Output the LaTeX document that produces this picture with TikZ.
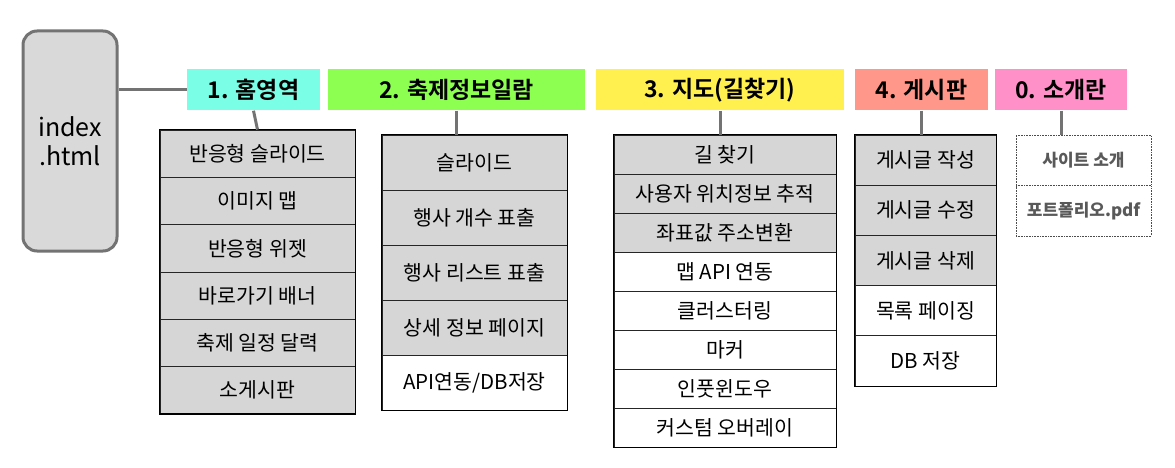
\documentclass[tikz,border=0pt]{standalone}
\usepackage{fontspec}
\setmainfont{Noto Sans CJK KR}
\newfontfamily\hb{Noto Sans CJK KR Black}
\begin{document}
\begin{tikzpicture}[x=1pt,y=-1pt,
  hdr/.style={minimum height=41pt,inner sep=0pt,font=\hb\bfseries\fontsize{23}{24}\selectfont},
  cell/.style={draw=black!85,line width=0.8pt,inner sep=0pt,font=\fontsize{20.5}{22}\selectfont},
  g/.style={fill=black!16},
  w/.style={fill=white},
  frame/.style={draw=black,line width=1.6pt},
  link/.style={draw=black!55,line width=3pt}]
\useasboundingbox (0,0) rectangle (1175,468);
\node[draw=black!55,line width=3pt,fill=black!15,rounded corners=14pt,minimum width=94pt,minimum height=220pt,inner sep=0pt,font=\fontsize{25}{29}\selectfont,align=center] (idx) at (70,141) {index\\.html};
\node[hdr,fill={rgb,255:red,122;green,255;blue,230},minimum width=133pt] (h1) at (253.5,90) {1. 홈영역};
\node[hdr,fill={rgb,255:red,140;green,255;blue,80},minimum width=257pt] (h2) at (456.5,90) {2. 축제정보일람};
\node[hdr,fill={rgb,255:red,255;green,240;blue,80},minimum width=248pt] (h3) at (720,90) {3. 지도(길찾기)};
\node[hdr,fill={rgb,255:red,255;green,152;blue,138},minimum width=133pt] (h4) at (921.5,90) {4. 게시판};
\node[hdr,fill={rgb,255:red,255;green,145;blue,200},minimum width=132pt] (h5) at (1061,90) {0. 소개란};
\draw[link] (idx.east|-h1) -- (h1.west);
% column 1
\foreach \t [count=\i] in {반응형 슬라이드,이미지 맵,반응형 위젯,바로가기 배너,축제 일정 달력,소게시판}{
  \node[cell,g,minimum width=195pt,minimum height=47.3pt] (a\i) at (257.5,{130+47.3*(\i-0.5)}) {\t};}
\draw[frame] (a1.north west) rectangle (a6.south east);
% column 2
\foreach \t/\s [count=\i] in {{슬라이드}/g,{행사 개수 표출}/g,{행사 리스트 표출}/g,{상세 정보 페이지}/g,{API연동/DB저장}/w}{
  \node[cell,\s,minimum width=185pt,minimum height=55pt] (b\i) at (474.5,{135+55*(\i-0.5)}) {\t};}
\draw[frame] (b1.north west) rectangle (b5.south east);
% column 3
\foreach \t/\s [count=\i] in {길 찾기/g,사용자 위치정보 추적/g,좌표값 주소변환/g,맵 API 연동/w,클러스터링/w,마커/w,인풋윈도우/w,커스텀 오버레이/w}{
  \node[cell,\s,minimum width=222pt,minimum height=39pt] (c\i) at (725,{135+39*(\i-0.5)}) {\t};}
\draw[frame] (c1.north west) rectangle (c8.south east);
% column 4
\foreach \t/\s [count=\i] in {게시글 작성/g,게시글 수정/g,게시글 삭제/g,목록 페이징/w,DB 저장/w}{
  \node[cell,\s,minimum width=141pt,minimum height=50.2pt] (d\i) at (925.5,{135+50.2*(\i-0.5)}) {\t};}
\draw[frame] (d1.north west) rectangle (d5.south east);
% column 5
\foreach \t [count=\i] in {사이트 소개,포트폴리오.pdf}{
  \node[draw=black!70,densely dotted,line width=0.6pt,inner sep=0pt,minimum width=135pt,minimum height=50.5pt,text=black!65,font=\bfseries\fontsize{17}{19}\selectfont] (e\i) at (1083.5,{135+50.5*(\i-0.5)}) {\t};}
\draw[link] (h1.south) -- (a1.north);
\draw[link] (h2.south) -- (h2.south|-b1.north);
\draw[link] (h3.south) -- (h3.south|-c1.north);
\draw[link] (h4.south) -- (h4.south|-d1.north);
\draw[link] (h5.south) -- (h5.south|-e1.north);
\end{tikzpicture}
\end{document}
